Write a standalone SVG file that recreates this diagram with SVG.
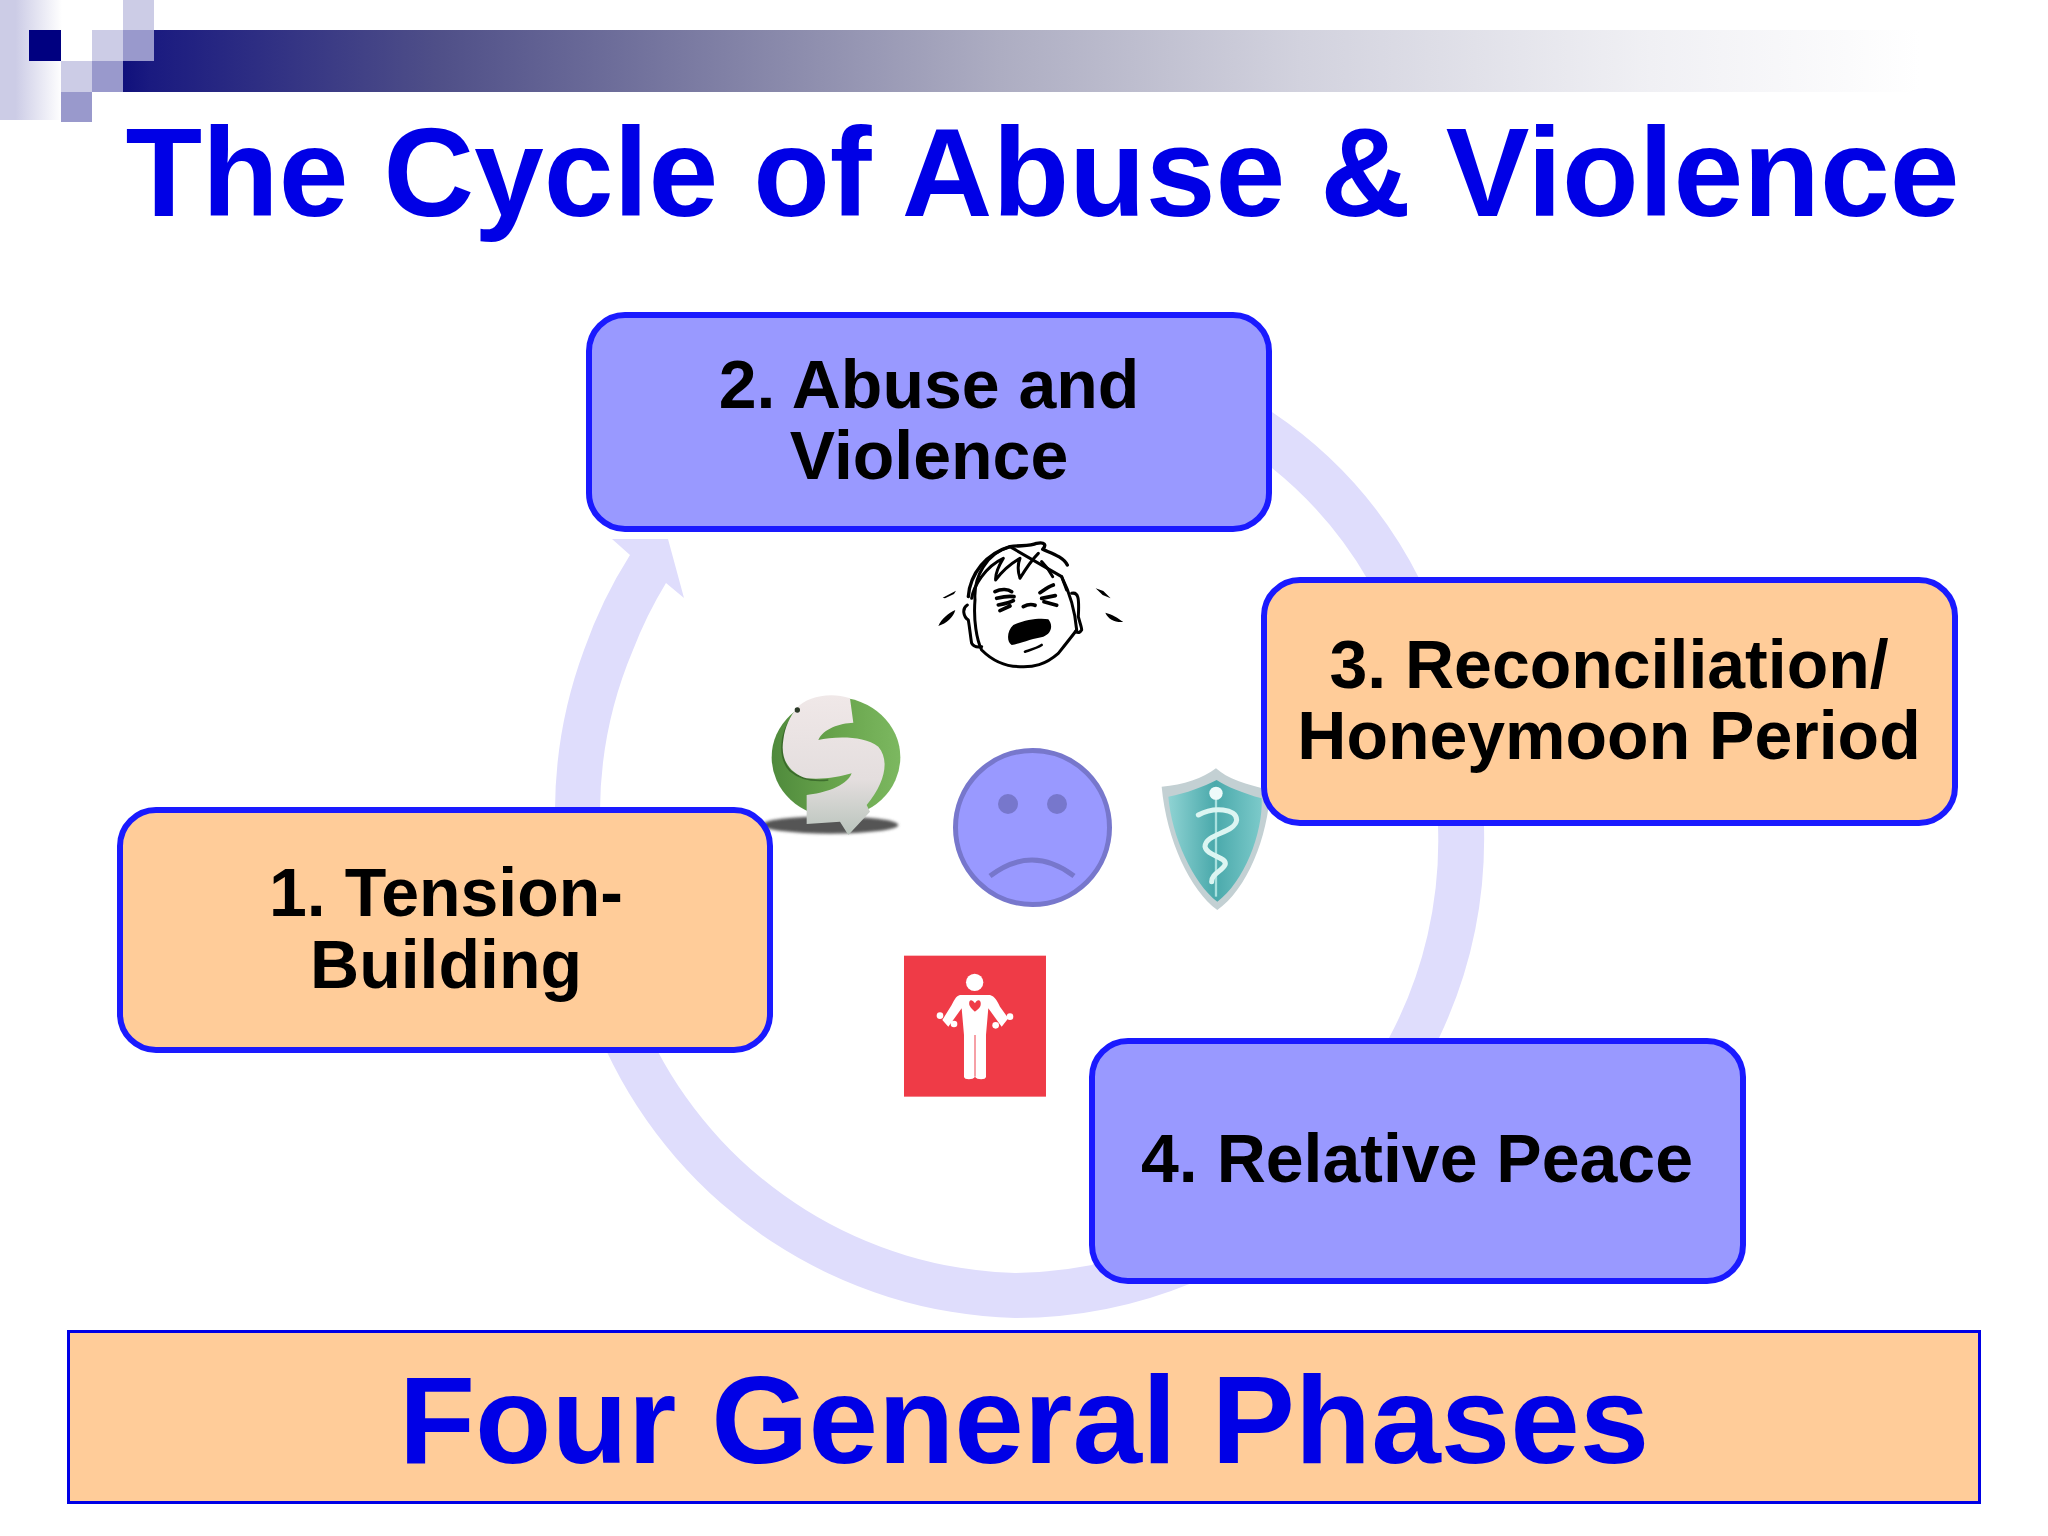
<svg xmlns="http://www.w3.org/2000/svg" width="2048" height="1536" viewBox="0 0 2048 1536">
<style>
text{font-family:"Liberation Sans",Arial,sans-serif;font-weight:700;text-anchor:middle}
.title{font-size:125.500px;fill:#0000e6}
.lbl{font-size:68px;fill:#000}
.box{stroke:#1a1aff;stroke-width:6}
.blue{fill:#9999ff}
.orange{fill:#ffcc99}
.lt{fill:#cccce6}
.md{fill:#9999cc}
.ink{fill:none;stroke:#000;stroke-linecap:round;stroke-linejoin:round}
</style>
<defs>
<linearGradient id="bar" gradientUnits="userSpaceOnUse" x1="123" y1="0" x2="1920" y2="0"><stop offset="0" stop-color="#10107c"/><stop offset=".015" stop-color="#1a1a80"/><stop offset=".175" stop-color="#4f4f88"/><stop offset=".35" stop-color="#8585a8"/><stop offset=".488" stop-color="#adadc2"/><stop offset=".655" stop-color="#d2d2de"/><stop offset=".85" stop-color="#f0f0f4"/><stop offset="1" stop-color="#fff"/></linearGradient>
<linearGradient id="fade" x1="0" y1="0" x2="1" y2="0"><stop offset="0.25" stop-color="#cccce6"/><stop offset="1" stop-color="#fff"/></linearGradient>
<linearGradient id="teal" x1="0" y1="0" x2="1" y2="0"><stop offset="0" stop-color="#8fd3d3"/><stop offset="0.5" stop-color="#4aa9ab"/><stop offset="1" stop-color="#7ccaca"/></linearGradient>
<linearGradient id="green" x1="0" y1="0" x2="1" y2="0"><stop offset="0" stop-color="#4f8a3c"/><stop offset=".5" stop-color="#68a44c"/><stop offset="1" stop-color="#7cb860"/></linearGradient>
<linearGradient id="sil" x1="0" y1="0" x2="0" y2="1"><stop offset="0" stop-color="#f0e8e8"/><stop offset="0.6" stop-color="#e4dede"/><stop offset="1" stop-color="#b9c4bc"/></linearGradient>
<filter id="soft" x="-20%" y="-50%" width="140%" height="200%"><feGaussianBlur stdDeviation="5"/></filter>
</defs>

<g id="header">
<rect x="0" y="0" width="62" height="120" fill="url(#fade)"/>
<path d="M154 30H1920V92H123V61H154Z" fill="url(#bar)"/>
<rect x="29" y="30" width="32" height="31" fill="#000080"/>
<rect x="92" y="30" width="31" height="31" class="lt"/>
<rect x="123" y="30" width="31" height="31" class="md"/>
<rect x="123" y="0" width="31" height="30" class="lt"/>
<rect x="61" y="61" width="31" height="31" class="lt"/>
<rect x="92" y="61" width="31" height="31" class="md"/>
<rect x="61" y="92" width="31" height="30" class="md"/>
</g>
<text id="title" class="title" x="1042.500" y="216">The Cycle of Abuse &amp; Violence</text>

<g id="connectors">
<path id="cycle-arrow" fill="#dfddfc" d="M1272 412A440 440 0 0 1 1420 580A470 470 0 0 1 1484 826A465 465 0 0 1 1439 1038A465 465 0 0 1 1192 1283A465 465 0 0 1 1015 1318A465 465 0 0 1 606 1050A465 465 0 0 1 555 810A465 465 0 0 1 584 650A465 465 0 0 1 630 555L612 539H668L684 598L666 583A418 418 0 0 0 633 650A418 418 0 0 0 600 810A418 418 0 0 0 657 1050A418 418 0 0 0 1015 1273A418 418 0 0 0 1092 1265L1389 1038A418 418 0 0 0 1438 826A425 425 0 0 0 1368 580A400 400 0 0 0 1272 468Z"/>
</g>

<g id="icon-crying" transform="translate(930 530) scale(.3333)">
<path d="M135 210C130 270 140 330 155 360C190 395 230 410 270 410C310 412 345 405 385 370C405 345 425 320 440 300C435 240 415 180 395 140L240 50C170 70 130 140 135 210Z" fill="#fff" stroke="#000" stroke-width="9" stroke-linejoin="round"/>
<g class="ink" stroke-width="9">
<path d="M112 225C95 235 100 260 115 270C120 300 122 325 125 340C132 352 145 352 155 350M425 190C445 185 448 205 445 260C450 280 456 295 455 300C450 308 445 310 437 305"/>
<path stroke-width="10" d="M115 200C120 130 170 70 240 50C270 45 300 50 320 40C345 35 350 45 338 58C365 70 400 80 412 105"/>
<path d="M125 205C130 170 165 110 220 85C205 110 195 130 197 150C215 125 235 105 270 85C262 105 265 130 270 145C285 120 305 90 325 70M335 95C350 110 360 125 368 140M395 140C398 150 405 165 410 180"/>
<path stroke-width="11" d="M195 185C215 175 235 178 245 185M200 205C220 200 240 198 252 200M205 225C220 222 240 218 250 212M210 242L240 228M330 188C345 178 355 170 370 165M335 205L376 197M342 215L380 226M280 230C295 222 305 222 315 226"/>
<path stroke-width="8" d="M285 365C300 360 320 355 335 345"/>
</g>
<path d="M250 285C280 270 330 262 355 268C370 285 365 310 340 320C310 325 270 340 245 345C228 335 232 300 250 285Z"/>
<path d="M38 203L78 182L72 192L45 205ZM25 288C35 265 55 250 76 240C70 262 50 280 25 288ZM497 175L520 183L542 205L518 195ZM526 248C545 252 565 265 580 276C555 278 535 268 526 248Z"/>
</g>

<g id="icon-dollar" transform="translate(750 680) scale(.3333)">
<ellipse cx="240" cy="435" rx="205" ry="26" fill="#555" filter="url(#soft)"/>
<ellipse cx="258" cy="232" rx="193" ry="180" fill="url(#green)"/>
<path d="M125 115C90 160 85 235 120 272C150 298 190 305 235 300" fill="none" stroke="#2f5a22" stroke-width="5" opacity=".7"/>
<path fill="url(#sil)" d="M140 85C170 50 240 35 300 55L310 128C270 130 220 145 205 180C250 170 340 165 385 200C420 240 405 310 350 375L360 395L295 465L270 425L170 432V345C220 340 290 320 305 280C270 290 220 300 170 295C120 280 90 240 100 180C105 140 120 110 140 85Z"/>
<circle cx="142" cy="90" r="8" fill="#2c3a28"/>
</g>

<g id="icon-sad">
<circle cx="1032.500" cy="827.500" r="77" fill="#9999ff" stroke="#7777cc" stroke-width="5"/>
<circle cx="1008" cy="804" r="10" fill="#7777cc"/>
<circle cx="1057" cy="804" r="10" fill="#7777cc"/>
<path d="M990 876Q1032 844 1074 876" fill="none" stroke="#7777cc" stroke-width="5"/>
</g>

<g id="icon-shield" transform="translate(1140 750) scale(.3333)">
<path fill="#c3d0d3" d="M65 110C130 105 190 85 228 55C260 85 320 105 390 120C385 260 320 420 232 480C150 420 80 270 65 110Z"/>
<path fill="url(#teal)" d="M85 140C140 130 190 110 230 90C260 110 310 130 365 145C370 250 310 400 232 455C160 400 95 260 85 140Z"/>
<path fill="none" stroke="#a8e0de" stroke-width="7" d="M228 150V440"/>
<path fill="none" stroke="#dcf5f2" stroke-width="15" stroke-linecap="round" d="M175 195C220 170 290 175 290 210C285 250 195 250 195 290C200 320 265 320 255 345C245 365 215 370 215 395"/>
<circle cx="228" cy="130" r="20" fill="#eefafa"/>
</g>

<g id="icon-person" transform="translate(880 920) scale(.3333)">
<rect x="72" y="107" width="426" height="423" fill="#ef3b47"/>
<g fill="#fff">
<circle cx="284" cy="187" r="26"/>
<path d="M240 225H330C345 230 350 240 360 260L385 295L365 320L325 265L318 345V470C318 480 290 480 285 470C280 480 252 480 252 470V345L245 265L205 320L187 300L215 255C225 235 230 228 240 225Z"/>
<circle cx="180" cy="287" r="10"/><circle cx="222" cy="312" r="10"/><circle cx="390" cy="290" r="10"/><circle cx="347" cy="316" r="10"/>
</g>
<path fill="#ef3b47" d="M285 250C275 235 265 240 268 255C272 265 280 270 285 275C290 270 300 265 302 255C305 240 292 235 285 250Z"/>
<path d="M285 345V470" stroke="#f6a0a6" stroke-width="6"/>
</g>

<g id="node-2">
<rect class="box blue" x="589" y="315" width="680" height="214" rx="36"/>
<text class="lbl" x="929" y="408">2. Abuse and</text>
<text class="lbl" x="929" y="479">Violence</text>
</g>
<g id="node-3">
<rect class="box orange" x="1264" y="580" width="691" height="243" rx="36"/>
<text class="lbl" x="1609" y="688">3. Reconciliation/</text>
<text class="lbl" x="1609" y="759">Honeymoon Period</text>
</g>
<g id="node-1">
<rect class="box orange" x="120" y="810" width="650" height="240" rx="36"/>
<text class="lbl" x="446" y="916">1. Tension-</text>
<text class="lbl" x="446" y="988">Building</text>
</g>
<g id="node-4">
<rect class="box blue" x="1092" y="1041" width="651" height="240" rx="36"/>
<text class="lbl" x="1417" y="1182">4. Relative Peace</text>
</g>
<g id="banner">
<rect x="68.500" y="1331.500" width="1911" height="171" fill="#ffcc99" stroke="#0000e6" stroke-width="3"/>
<text class="title" x="1024" y="1463" style="font-size:125px">Four General Phases</text>
</g>
</svg>
